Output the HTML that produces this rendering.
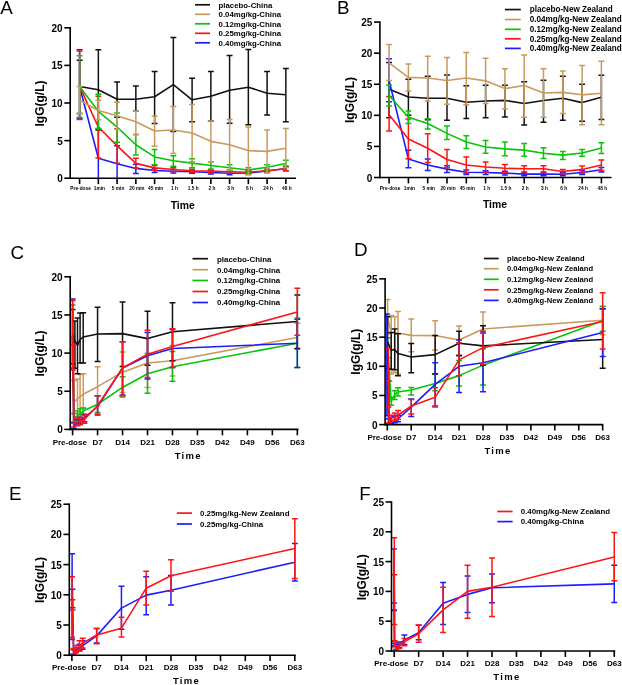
<!DOCTYPE html>
<html><head><meta charset="utf-8"><style>
html,body{margin:0;padding:0;background:#fff;}
svg{display:block;will-change:transform;}
</style></head><body>
<svg width="622" height="685" viewBox="0 0 622 685" font-family='"Liberation Sans", sans-serif' fill="#000">
<rect width="622" height="685" fill="#fff"/>
<clipPath id="cA"><rect x="70.2" y="0" width="228.8" height="178.2"/></clipPath>
<g clip-path="url(#cA)">
<path d="M79.6 86.46V60.14M76.65 60.14H82.55M79.6 86.46V113.53M76.65 113.53H82.55" stroke="#111111" stroke-width="1.5" fill="none"/>
<path d="M98.35 89.69V49.76M95.4 49.76H101.3M98.35 89.69V130.07M95.4 130.07H101.3" stroke="#111111" stroke-width="1.5" fill="none"/>
<path d="M117.1 99.24V81.94M114.15 81.94H120.05M117.1 99.24V117.29M114.15 117.29H120.05" stroke="#111111" stroke-width="1.5" fill="none"/>
<path d="M135.85 99.24V85.93M132.9 85.93H138.8M135.85 99.24V111.27M132.9 111.27H138.8" stroke="#111111" stroke-width="1.5" fill="none"/>
<path d="M154.6 96.76V71.42M151.65 71.42H157.55M154.6 96.76V123.45M151.65 123.45H157.55" stroke="#111111" stroke-width="1.5" fill="none"/>
<path d="M173.35 84.58V37.58M170.4 37.58H176.3M173.35 84.58V131.58M170.4 131.58H176.3" stroke="#111111" stroke-width="1.5" fill="none"/>
<path d="M192.1 99.77V78.18M189.15 78.18H195.05M192.1 99.77V121.8M189.15 121.8H195.05" stroke="#111111" stroke-width="1.5" fill="none"/>
<path d="M210.85 96.23V71.42M207.9 71.42H213.8M210.85 96.23V121.05M207.9 121.05H213.8" stroke="#111111" stroke-width="1.5" fill="none"/>
<path d="M229.6 90.22V55.62M226.65 55.62H232.55M229.6 90.22V123.3M226.65 123.3H232.55" stroke="#111111" stroke-width="1.5" fill="none"/>
<path d="M248.35 87.21V49.61M245.4 49.61H251.3M248.35 87.21V124.81M245.4 124.81H251.3" stroke="#111111" stroke-width="1.5" fill="none"/>
<path d="M267.1 93.22V71.42M264.15 71.42H270.05M267.1 93.22V115.03M264.15 115.03H270.05" stroke="#111111" stroke-width="1.5" fill="none"/>
<path d="M285.85 94.73V68.41M282.9 68.41H288.8M285.85 94.73V121.8M282.9 121.8H288.8" stroke="#111111" stroke-width="1.5" fill="none"/>
<path d="M79.6 86.46 L98.35 89.69 L117.1 99.24 L135.85 99.24 L154.6 96.76 L173.35 84.58 L192.1 99.77 L210.85 96.23 L229.6 90.22 L248.35 87.21 L267.1 93.22 L285.85 94.73" stroke="#111111" stroke-width="1.6" fill="none" stroke-linejoin="round"/>
<path d="M79.6 86.46V49.76M76.65 49.76H82.55M79.6 86.46V118.79M76.65 118.79H82.55" stroke="#1c1cff" stroke-width="1.5" fill="none"/>
<path d="M98.35 158.27V128.57M95.4 128.57H101.3M98.35 158.27V193.24" stroke="#1c1cff" stroke-width="1.5" fill="none"/>
<path d="M117.1 163.76V145.86M114.15 145.86H120.05M117.1 163.76V185.72" stroke="#1c1cff" stroke-width="1.5" fill="none"/>
<path d="M135.85 168.42V164.36M132.9 164.36H138.8M135.85 168.42V173.39M132.9 173.39H138.8" stroke="#1c1cff" stroke-width="1.5" fill="none"/>
<path d="M154.6 170.45V168.42M151.65 168.42H157.55M154.6 170.45V172.56M151.65 172.56H157.55" stroke="#1c1cff" stroke-width="1.5" fill="none"/>
<path d="M173.35 171.28V169.55M170.4 169.55H176.3M173.35 171.28V172.94M170.4 172.94H176.3" stroke="#1c1cff" stroke-width="1.5" fill="none"/>
<path d="M192.1 171.81V170.3M189.15 170.3H195.05M192.1 171.81V173.31M189.15 173.31H195.05" stroke="#1c1cff" stroke-width="1.5" fill="none"/>
<path d="M210.85 172.56V171.06M207.9 171.06H213.8M210.85 172.56V174.06M207.9 174.06H213.8" stroke="#1c1cff" stroke-width="1.5" fill="none"/>
<path d="M229.6 173.31V171.81M226.65 171.81H232.55M229.6 173.31V174.82M226.65 174.82H232.55" stroke="#1c1cff" stroke-width="1.5" fill="none"/>
<path d="M248.35 172.94V171.43M245.4 171.43H251.3M248.35 172.94V174.44M245.4 174.44H251.3" stroke="#1c1cff" stroke-width="1.5" fill="none"/>
<path d="M267.1 171.06V169.55M264.15 169.55H270.05M267.1 171.06V172.56M264.15 172.56H270.05" stroke="#1c1cff" stroke-width="1.5" fill="none"/>
<path d="M285.85 168.42V166.17M282.9 166.17H288.8M285.85 168.42V170.68M282.9 170.68H288.8" stroke="#1c1cff" stroke-width="1.5" fill="none"/>
<path d="M79.6 86.46 L98.35 158.27 L117.1 163.76 L135.85 168.42 L154.6 170.45 L173.35 171.28 L192.1 171.81 L210.85 172.56 L229.6 173.31 L248.35 172.94 L267.1 171.06 L285.85 168.42" stroke="#1c1cff" stroke-width="1.6" fill="none" stroke-linejoin="round"/>
<path d="M79.6 86.46V51.11M76.65 51.11H82.55M79.6 86.46V119.54M76.65 119.54H82.55" stroke="#ff1414" stroke-width="1.5" fill="none"/>
<path d="M98.35 127.06V96.23M95.4 96.23H101.3M98.35 127.06V157.9M95.4 157.9H101.3" stroke="#ff1414" stroke-width="1.5" fill="none"/>
<path d="M117.1 145.86V128.79M114.15 128.79H120.05M117.1 145.86V163.16M114.15 163.16H120.05" stroke="#ff1414" stroke-width="1.5" fill="none"/>
<path d="M135.85 163.39V158.27M132.9 158.27H138.8M135.85 163.39V167.9M132.9 167.9H138.8" stroke="#ff1414" stroke-width="1.5" fill="none"/>
<path d="M154.6 167.9V165.42M151.65 165.42H157.55M154.6 167.9V170.3M151.65 170.3H157.55" stroke="#ff1414" stroke-width="1.5" fill="none"/>
<path d="M173.35 169.48V167.67M170.4 167.67H176.3M173.35 169.48V171.43M170.4 171.43H176.3" stroke="#ff1414" stroke-width="1.5" fill="none"/>
<path d="M192.1 170.68V169.18M189.15 169.18H195.05M192.1 170.68V172.18M189.15 172.18H195.05" stroke="#ff1414" stroke-width="1.5" fill="none"/>
<path d="M210.85 171.06V169.55M207.9 169.55H213.8M210.85 171.06V172.56M207.9 172.56H213.8" stroke="#ff1414" stroke-width="1.5" fill="none"/>
<path d="M229.6 171.81V170.3M226.65 170.3H232.55M229.6 171.81V173.31M226.65 173.31H232.55" stroke="#ff1414" stroke-width="1.5" fill="none"/>
<path d="M248.35 172.18V170.68M245.4 170.68H251.3M248.35 172.18V173.69M245.4 173.69H251.3" stroke="#ff1414" stroke-width="1.5" fill="none"/>
<path d="M267.1 170.68V169.18M264.15 169.18H270.05M267.1 170.68V172.18M264.15 172.18H270.05" stroke="#ff1414" stroke-width="1.5" fill="none"/>
<path d="M285.85 168.8V166.92M282.9 166.92H288.8M285.85 168.8V170.68M282.9 170.68H288.8" stroke="#ff1414" stroke-width="1.5" fill="none"/>
<path d="M79.6 86.46 L98.35 127.06 L117.1 145.86 L135.85 163.39 L154.6 167.9 L173.35 169.48 L192.1 170.68 L210.85 171.06 L229.6 171.81 L248.35 172.18 L267.1 170.68 L285.85 168.8" stroke="#ff1414" stroke-width="1.6" fill="none" stroke-linejoin="round"/>
<path d="M79.6 86.46V55.85M76.65 55.85H82.55M79.6 86.46V117.29M76.65 117.29H82.55" stroke="#08c408" stroke-width="1.5" fill="none"/>
<path d="M98.35 111.27V94.35M95.4 94.35H101.3M98.35 111.27V128.79M95.4 128.79H101.3" stroke="#08c408" stroke-width="1.5" fill="none"/>
<path d="M117.1 127.06V113M114.15 113H120.05M117.1 127.06V142.18M114.15 142.18H120.05" stroke="#08c408" stroke-width="1.5" fill="none"/>
<path d="M135.85 144.74V134.58M132.9 134.58H138.8M135.85 144.74V154.89M132.9 154.89H138.8" stroke="#08c408" stroke-width="1.5" fill="none"/>
<path d="M154.6 156.92V149.4M151.65 149.4H157.55M154.6 156.92V164.74M151.65 164.74H157.55" stroke="#08c408" stroke-width="1.5" fill="none"/>
<path d="M173.35 160.68V155.64M170.4 155.64H176.3M173.35 160.68V166.17M170.4 166.17H176.3" stroke="#08c408" stroke-width="1.5" fill="none"/>
<path d="M192.1 163.16V158.65M189.15 158.65H195.05M192.1 163.16V167.67M189.15 167.67H195.05" stroke="#08c408" stroke-width="1.5" fill="none"/>
<path d="M210.85 165.42V161.66M207.9 161.66H213.8M210.85 165.42V169.18M207.9 169.18H213.8" stroke="#08c408" stroke-width="1.5" fill="none"/>
<path d="M229.6 167.67V164.66M226.65 164.66H232.55M229.6 167.67V170.68M226.65 170.68H232.55" stroke="#08c408" stroke-width="1.5" fill="none"/>
<path d="M248.35 169.93V167.67M245.4 167.67H251.3M248.35 169.93V172.18M245.4 172.18H251.3" stroke="#08c408" stroke-width="1.5" fill="none"/>
<path d="M267.1 167.3V164.66M264.15 164.66H270.05M267.1 167.3V169.93M264.15 169.93H270.05" stroke="#08c408" stroke-width="1.5" fill="none"/>
<path d="M285.85 163.46V160.15M282.9 160.15H288.8M285.85 163.46V166.92M282.9 166.92H288.8" stroke="#08c408" stroke-width="1.5" fill="none"/>
<path d="M79.6 86.46 L98.35 111.27 L117.1 127.06 L135.85 144.74 L154.6 156.92 L173.35 160.68 L192.1 163.16 L210.85 165.42 L229.6 167.67 L248.35 169.93 L267.1 167.3 L285.85 163.46" stroke="#08c408" stroke-width="1.6" fill="none" stroke-linejoin="round"/>
<path d="M79.6 100.29V86.46M76.65 86.46H82.55M79.6 100.29V113.53M76.65 113.53H82.55" stroke="#c99a5e" stroke-width="1.5" fill="none"/>
<path d="M98.35 110.52V100.29M95.4 100.29H101.3M98.35 110.52V119.77M95.4 119.77H101.3" stroke="#c99a5e" stroke-width="1.5" fill="none"/>
<path d="M117.1 115.78V102.25M114.15 102.25H120.05M117.1 115.78V129.32M114.15 129.32H120.05" stroke="#c99a5e" stroke-width="1.5" fill="none"/>
<path d="M135.85 121.8V111.27M132.9 111.27H138.8M135.85 121.8V134.58M132.9 134.58H138.8" stroke="#c99a5e" stroke-width="1.5" fill="none"/>
<path d="M154.6 130.97V116.24M151.65 116.24H157.55M154.6 130.97V146.32M151.65 146.32H157.55" stroke="#c99a5e" stroke-width="1.5" fill="none"/>
<path d="M173.35 130.07V106.38M170.4 106.38H176.3M173.35 130.07V153.53M170.4 153.53H176.3" stroke="#c99a5e" stroke-width="1.5" fill="none"/>
<path d="M192.1 133.08V104.5M189.15 104.5H195.05M192.1 133.08V161.66M189.15 161.66H195.05" stroke="#c99a5e" stroke-width="1.5" fill="none"/>
<path d="M210.85 141.35V121.05M207.9 121.05H213.8M210.85 141.35V161.66M207.9 161.66H213.8" stroke="#c99a5e" stroke-width="1.5" fill="none"/>
<path d="M229.6 144.74V119.54M226.65 119.54H232.55M229.6 144.74V169.93M226.65 169.93H232.55" stroke="#c99a5e" stroke-width="1.5" fill="none"/>
<path d="M248.35 150.6V127.06M245.4 127.06H251.3M248.35 150.6V174.44M245.4 174.44H251.3" stroke="#c99a5e" stroke-width="1.5" fill="none"/>
<path d="M267.1 151.35V130.07M264.15 130.07H270.05M267.1 151.35V172.94M264.15 172.94H270.05" stroke="#c99a5e" stroke-width="1.5" fill="none"/>
<path d="M285.85 148.27V128.57M282.9 128.57H288.8M285.85 148.27V167.67M282.9 167.67H288.8" stroke="#c99a5e" stroke-width="1.5" fill="none"/>
<path d="M79.6 100.29 L98.35 110.52 L117.1 115.78 L135.85 121.8 L154.6 130.97 L173.35 130.07 L192.1 133.08 L210.85 141.35 L229.6 144.74 L248.35 150.6 L267.1 151.35 L285.85 148.27" stroke="#c99a5e" stroke-width="1.6" fill="none" stroke-linejoin="round"/>
</g>
<path d="M70.2 27V179" stroke="#000" stroke-width="1.6"/>
<path d="M69.4 178.2H296" stroke="#000" stroke-width="1.6"/>
<path d="M64.3 178.2H70.2" stroke="#000" stroke-width="1.6"/>
<text x="62.7" y="182.2" font-size="10" font-weight="bold" text-anchor="end">0</text>
<path d="M64.3 140.6H70.2" stroke="#000" stroke-width="1.6"/>
<text x="62.7" y="144.6" font-size="10" font-weight="bold" text-anchor="end">5</text>
<path d="M64.3 103H70.2" stroke="#000" stroke-width="1.6"/>
<text x="62.7" y="107" font-size="10" font-weight="bold" text-anchor="end">10</text>
<path d="M64.3 65.4H70.2" stroke="#000" stroke-width="1.6"/>
<text x="62.7" y="69.4" font-size="10" font-weight="bold" text-anchor="end">15</text>
<path d="M64.3 27.8H70.2" stroke="#000" stroke-width="1.6"/>
<text x="62.7" y="31.8" font-size="10" font-weight="bold" text-anchor="end">20</text>
<path d="M79.6 178.2V184.1" stroke="#000" stroke-width="1.6"/>
<text x="80.6" y="190.03" font-size="4.8" font-weight="bold" text-anchor="middle">Pre-dose</text>
<path d="M98.35 178.2V184.1" stroke="#000" stroke-width="1.6"/>
<text x="99.35" y="190.03" font-size="4.8" font-weight="bold" text-anchor="middle">1min</text>
<path d="M117.1 178.2V184.1" stroke="#000" stroke-width="1.6"/>
<text x="118.1" y="190.03" font-size="4.8" font-weight="bold" text-anchor="middle">5 min</text>
<path d="M135.85 178.2V184.1" stroke="#000" stroke-width="1.6"/>
<text x="136.85" y="190.03" font-size="4.8" font-weight="bold" text-anchor="middle">20 min</text>
<path d="M154.6 178.2V184.1" stroke="#000" stroke-width="1.6"/>
<text x="155.6" y="190.03" font-size="4.8" font-weight="bold" text-anchor="middle">45 min</text>
<path d="M173.35 178.2V184.1" stroke="#000" stroke-width="1.6"/>
<text x="174.35" y="190.03" font-size="4.8" font-weight="bold" text-anchor="middle">1 h</text>
<path d="M192.1 178.2V184.1" stroke="#000" stroke-width="1.6"/>
<text x="193.1" y="190.03" font-size="4.8" font-weight="bold" text-anchor="middle">1.5 h</text>
<path d="M210.85 178.2V184.1" stroke="#000" stroke-width="1.6"/>
<text x="211.85" y="190.03" font-size="4.8" font-weight="bold" text-anchor="middle">2 h</text>
<path d="M229.6 178.2V184.1" stroke="#000" stroke-width="1.6"/>
<text x="230.6" y="190.03" font-size="4.8" font-weight="bold" text-anchor="middle">3 h</text>
<path d="M248.35 178.2V184.1" stroke="#000" stroke-width="1.6"/>
<text x="249.35" y="190.03" font-size="4.8" font-weight="bold" text-anchor="middle">6 h</text>
<path d="M267.1 178.2V184.1" stroke="#000" stroke-width="1.6"/>
<text x="268.1" y="190.03" font-size="4.8" font-weight="bold" text-anchor="middle">24 h</text>
<path d="M285.85 178.2V184.1" stroke="#000" stroke-width="1.6"/>
<text x="286.85" y="190.03" font-size="4.8" font-weight="bold" text-anchor="middle">48 h</text>
<text transform="translate(44.47 103.5) rotate(-90)" font-size="12" font-weight="bold" text-anchor="middle">IgG(g/L)</text>
<text x="182.7" y="208.74" font-size="10.4" font-weight="bold" text-anchor="middle" letter-spacing="0">Time</text>
<text x="0.2" y="13.9" font-size="18.8">A</text>
<path d="M195 4.8H210" stroke="#111111" stroke-width="1.7"/>
<text x="218.6" y="7.61" font-size="7.8" font-weight="bold">placebo-China</text>
<path d="M195 14.3H210" stroke="#c99a5e" stroke-width="1.7"/>
<text x="218.6" y="17.11" font-size="7.8" font-weight="bold">0.04mg/kg-China</text>
<path d="M195 23.8H210" stroke="#08c408" stroke-width="1.7"/>
<text x="218.6" y="26.61" font-size="7.8" font-weight="bold">0.12mg/kg-China</text>
<path d="M195 33.3H210" stroke="#ff1414" stroke-width="1.7"/>
<text x="218.6" y="36.11" font-size="7.8" font-weight="bold">0.25mg/kg-China</text>
<path d="M195 42.8H210" stroke="#1c1cff" stroke-width="1.7"/>
<text x="218.6" y="45.61" font-size="7.8" font-weight="bold">0.40mg/kg-China</text>
<clipPath id="cB"><rect x="379.9" y="0" width="234.6" height="177.5"/></clipPath>
<g clip-path="url(#cB)">
<path d="M389.1 89.23V62.5M386.15 62.5H392.05M389.1 89.23V117.83M386.15 117.83H392.05" stroke="#111111" stroke-width="1.5" fill="none"/>
<path d="M408.4 96.94V79.29M405.45 79.29H411.35M408.4 96.94V115.34M405.45 115.34H411.35" stroke="#111111" stroke-width="1.5" fill="none"/>
<path d="M427.7 98.25V76.18M424.75 76.18H430.65M427.7 98.25V119.69M424.75 119.69H430.65" stroke="#111111" stroke-width="1.5" fill="none"/>
<path d="M447 98.25V74.94M444.05 74.94H449.95M447 98.25V120.31M444.05 120.31H449.95" stroke="#111111" stroke-width="1.5" fill="none"/>
<path d="M466.3 102.29V85.81M463.35 85.81H469.25M466.3 102.29V118.45M463.35 118.45H469.25" stroke="#111111" stroke-width="1.5" fill="none"/>
<path d="M485.6 101.04V85.19M482.65 85.19H488.55M485.6 101.04V117.83M482.65 117.83H488.55" stroke="#111111" stroke-width="1.5" fill="none"/>
<path d="M504.9 100.42V85.19M501.95 85.19H507.85M504.9 100.42V116.89M501.95 116.89H507.85" stroke="#111111" stroke-width="1.5" fill="none"/>
<path d="M524.2 103.53V81.77M521.25 81.77H527.15M524.2 103.53V124.97M521.25 124.97H527.15" stroke="#111111" stroke-width="1.5" fill="none"/>
<path d="M543.5 100.42V80.22M540.55 80.22H546.45M543.5 100.42V122.18M540.55 122.18H546.45" stroke="#111111" stroke-width="1.5" fill="none"/>
<path d="M562.8 98.25V76.18M559.85 76.18H565.75M562.8 98.25V120.31M559.85 120.31H565.75" stroke="#111111" stroke-width="1.5" fill="none"/>
<path d="M582.1 102.6V84.26M579.15 84.26H585.05M582.1 102.6V121.25M579.15 121.25H585.05" stroke="#111111" stroke-width="1.5" fill="none"/>
<path d="M601.4 97.31V75.25M598.45 75.25H604.35M601.4 97.31V119.38M598.45 119.38H604.35" stroke="#111111" stroke-width="1.5" fill="none"/>
<path d="M389.1 89.23 L408.4 96.94 L427.7 98.25 L447 98.25 L466.3 102.29 L485.6 101.04 L504.9 100.42 L524.2 103.53 L543.5 100.42 L562.8 98.25 L582.1 102.6 L601.4 97.31" stroke="#111111" stroke-width="1.6" fill="none" stroke-linejoin="round"/>
<path d="M389.1 80.53V58.77M386.15 58.77H392.05M389.1 80.53V101.66M386.15 101.66H392.05" stroke="#1c1cff" stroke-width="1.5" fill="none"/>
<path d="M408.4 159.1V150.15M405.45 150.15H411.35M408.4 159.1V167.87M405.45 167.87H411.35" stroke="#1c1cff" stroke-width="1.5" fill="none"/>
<path d="M427.7 165.07V159.1M424.75 159.1H430.65M427.7 165.07V170.41M424.75 170.41H430.65" stroke="#1c1cff" stroke-width="1.5" fill="none"/>
<path d="M447 169.11V165.69M444.05 165.69H449.95M447 169.11V172.53M444.05 172.53H449.95" stroke="#1c1cff" stroke-width="1.5" fill="none"/>
<path d="M466.3 172.22V170.04M463.35 170.04H469.25M466.3 172.22V174.39M463.35 174.39H469.25" stroke="#1c1cff" stroke-width="1.5" fill="none"/>
<path d="M485.6 172.53V170.66M482.65 170.66H488.55M485.6 172.53V174.39M482.65 174.39H488.55" stroke="#1c1cff" stroke-width="1.5" fill="none"/>
<path d="M504.9 173.15V171.28M501.95 171.28H507.85M504.9 173.15V175.01M501.95 175.01H507.85" stroke="#1c1cff" stroke-width="1.5" fill="none"/>
<path d="M524.2 174.08V172.53M521.25 172.53H527.15M524.2 174.08V175.64M521.25 175.64H527.15" stroke="#1c1cff" stroke-width="1.5" fill="none"/>
<path d="M543.5 174.08V172.53M540.55 172.53H546.45M543.5 174.08V175.64M540.55 175.64H546.45" stroke="#1c1cff" stroke-width="1.5" fill="none"/>
<path d="M562.8 174.21V172.53M559.85 172.53H565.75M562.8 174.21V175.64M559.85 175.64H565.75" stroke="#1c1cff" stroke-width="1.5" fill="none"/>
<path d="M582.1 172.53V170.66M579.15 170.66H585.05M582.1 172.53V174.39M579.15 174.39H585.05" stroke="#1c1cff" stroke-width="1.5" fill="none"/>
<path d="M601.4 169.79V167.55M598.45 167.55H604.35M601.4 169.79V171.91M598.45 171.91H604.35" stroke="#1c1cff" stroke-width="1.5" fill="none"/>
<path d="M389.1 80.53 L408.4 159.1 L427.7 165.07 L447 169.11 L466.3 172.22 L485.6 172.53 L504.9 173.15 L524.2 174.08 L543.5 174.08 L562.8 174.21 L582.1 172.53 L601.4 169.79" stroke="#1c1cff" stroke-width="1.6" fill="none" stroke-linejoin="round"/>
<path d="M389.1 114.72V96.38M386.15 96.38H392.05M389.1 114.72V130.88M386.15 130.88H392.05" stroke="#ff1414" stroke-width="1.5" fill="none"/>
<path d="M408.4 138.96V119.07M405.45 119.07H411.35M408.4 138.96V158.85M405.45 158.85H411.35" stroke="#ff1414" stroke-width="1.5" fill="none"/>
<path d="M427.7 148.28V133.68M424.75 133.68H430.65M427.7 148.28V162.58M424.75 162.58H430.65" stroke="#ff1414" stroke-width="1.5" fill="none"/>
<path d="M447 159.47V149.53M444.05 149.53H449.95M447 159.47V167.87M444.05 167.87H449.95" stroke="#ff1414" stroke-width="1.5" fill="none"/>
<path d="M466.3 165.07V156.99M463.35 156.99H469.25M466.3 165.07V173.15M463.35 173.15H469.25" stroke="#ff1414" stroke-width="1.5" fill="none"/>
<path d="M485.6 166.93V161.96M482.65 161.96H488.55M485.6 166.93V171.91M482.65 171.91H488.55" stroke="#ff1414" stroke-width="1.5" fill="none"/>
<path d="M504.9 168.3V164.45M501.95 164.45H507.85M504.9 168.3V172.71M501.95 172.71H507.85" stroke="#ff1414" stroke-width="1.5" fill="none"/>
<path d="M524.2 168.8V165.69M521.25 165.69H527.15M524.2 168.8V171.91M521.25 171.91H527.15" stroke="#ff1414" stroke-width="1.5" fill="none"/>
<path d="M543.5 168.8V165.69M540.55 165.69H546.45M543.5 168.8V171.91M540.55 171.91H546.45" stroke="#ff1414" stroke-width="1.5" fill="none"/>
<path d="M562.8 171.53V169.42M559.85 169.42H565.75M562.8 171.53V173.77M559.85 173.77H565.75" stroke="#ff1414" stroke-width="1.5" fill="none"/>
<path d="M582.1 169.42V166M579.15 166H585.05M582.1 169.42V173.15M579.15 173.15H585.05" stroke="#ff1414" stroke-width="1.5" fill="none"/>
<path d="M601.4 165.07V160.1M598.45 160.1H604.35M601.4 165.07V170.41M598.45 170.41H604.35" stroke="#ff1414" stroke-width="1.5" fill="none"/>
<path d="M389.1 114.72 L408.4 138.96 L427.7 148.28 L447 159.47 L466.3 165.07 L485.6 166.93 L504.9 168.3 L524.2 168.8 L543.5 168.8 L562.8 171.53 L582.1 169.42 L601.4 165.07" stroke="#ff1414" stroke-width="1.6" fill="none" stroke-linejoin="round"/>
<path d="M389.1 95.45V84.88M386.15 84.88H392.05M389.1 95.45V106.02M386.15 106.02H392.05" stroke="#08c408" stroke-width="1.5" fill="none"/>
<path d="M408.4 117.2V110.99M405.45 110.99H411.35M408.4 117.2V123.42M405.45 123.42H411.35" stroke="#08c408" stroke-width="1.5" fill="none"/>
<path d="M427.7 123.42V118.76M424.75 118.76H430.65M427.7 123.42V129.02M424.75 129.02H430.65" stroke="#08c408" stroke-width="1.5" fill="none"/>
<path d="M447 133.37V125.91M444.05 125.91H449.95M447 133.37V139.58M444.05 139.58H449.95" stroke="#08c408" stroke-width="1.5" fill="none"/>
<path d="M466.3 142.07V135.85M463.35 135.85H469.25M466.3 142.07V148.6M463.35 148.6H469.25" stroke="#08c408" stroke-width="1.5" fill="none"/>
<path d="M485.6 147.04V140.51M482.65 140.51H488.55M485.6 147.04V153.26M482.65 153.26H488.55" stroke="#08c408" stroke-width="1.5" fill="none"/>
<path d="M504.9 148.91V142.07M501.95 142.07H507.85M504.9 148.91V155.74M501.95 155.74H507.85" stroke="#08c408" stroke-width="1.5" fill="none"/>
<path d="M524.2 150.15V143.62M521.25 143.62H527.15M524.2 150.15V156.37M521.25 156.37H527.15" stroke="#08c408" stroke-width="1.5" fill="none"/>
<path d="M543.5 153.26V147.66M540.55 147.66H546.45M543.5 153.26V158.54M540.55 158.54H546.45" stroke="#08c408" stroke-width="1.5" fill="none"/>
<path d="M562.8 155.12V151.39M559.85 151.39H565.75M562.8 155.12V159.47M559.85 159.47H565.75" stroke="#08c408" stroke-width="1.5" fill="none"/>
<path d="M582.1 152.95V149.53M579.15 149.53H585.05M582.1 152.95V156.37M579.15 156.37H585.05" stroke="#08c408" stroke-width="1.5" fill="none"/>
<path d="M601.4 147.97V142.69M598.45 142.69H604.35M601.4 147.97V153.57M598.45 153.57H604.35" stroke="#08c408" stroke-width="1.5" fill="none"/>
<path d="M389.1 95.45 L408.4 117.2 L427.7 123.42 L447 133.37 L466.3 142.07 L485.6 147.04 L504.9 148.91 L524.2 150.15 L543.5 153.26 L562.8 155.12 L582.1 152.95 L601.4 147.97" stroke="#08c408" stroke-width="1.6" fill="none" stroke-linejoin="round"/>
<path d="M389.1 62.81V44.48M386.15 44.48H392.05M389.1 62.81V80.53M386.15 80.53H392.05" stroke="#c99a5e" stroke-width="1.5" fill="none"/>
<path d="M408.4 77.42V64.06M405.45 64.06H411.35M408.4 77.42V91.1M405.45 91.1H411.35" stroke="#c99a5e" stroke-width="1.5" fill="none"/>
<path d="M427.7 78.04V56.29M424.75 56.29H430.65M427.7 78.04V101.04M424.75 101.04H430.65" stroke="#c99a5e" stroke-width="1.5" fill="none"/>
<path d="M447 80.53V57.53M444.05 57.53H449.95M447 80.53V104.15M444.05 104.15H449.95" stroke="#c99a5e" stroke-width="1.5" fill="none"/>
<path d="M466.3 78.04V52.56M463.35 52.56H469.25M466.3 78.04V104.77M463.35 104.77H469.25" stroke="#c99a5e" stroke-width="1.5" fill="none"/>
<path d="M485.6 80.84V58.15M482.65 58.15H488.55M485.6 80.84V103.53M482.65 103.53H488.55" stroke="#c99a5e" stroke-width="1.5" fill="none"/>
<path d="M504.9 88.61V68.72M501.95 68.72H507.85M504.9 88.61V109.12M501.95 109.12H507.85" stroke="#c99a5e" stroke-width="1.5" fill="none"/>
<path d="M524.2 85.5V55.04M521.25 55.04H527.15M524.2 85.5V117.2M521.25 117.2H527.15" stroke="#c99a5e" stroke-width="1.5" fill="none"/>
<path d="M543.5 92.96V68.72M540.55 68.72H546.45M543.5 92.96V117.2M540.55 117.2H546.45" stroke="#c99a5e" stroke-width="1.5" fill="none"/>
<path d="M562.8 92.34V70.9M559.85 70.9H565.75M562.8 92.34V113.48M559.85 113.48H565.75" stroke="#c99a5e" stroke-width="1.5" fill="none"/>
<path d="M582.1 94.83V65.61M579.15 65.61H585.05M582.1 94.83V124.66M579.15 124.66H585.05" stroke="#c99a5e" stroke-width="1.5" fill="none"/>
<path d="M601.4 93.27V61.26M598.45 61.26H604.35M601.4 93.27V124.66M598.45 124.66H604.35" stroke="#c99a5e" stroke-width="1.5" fill="none"/>
<path d="M389.1 62.81 L408.4 77.42 L427.7 78.04 L447 80.53 L466.3 78.04 L485.6 80.84 L504.9 88.61 L524.2 85.5 L543.5 92.96 L562.8 92.34 L582.1 94.83 L601.4 93.27" stroke="#c99a5e" stroke-width="1.6" fill="none" stroke-linejoin="round"/>
</g>
<path d="M379.9 21.3V178.3" stroke="#000" stroke-width="1.6"/>
<path d="M379.1 177.5H611.5" stroke="#000" stroke-width="1.6"/>
<path d="M374 177.5H379.9" stroke="#000" stroke-width="1.6"/>
<text x="372.4" y="181.5" font-size="10" font-weight="bold" text-anchor="end">0</text>
<path d="M374 146.42H379.9" stroke="#000" stroke-width="1.6"/>
<text x="372.4" y="150.42" font-size="10" font-weight="bold" text-anchor="end">5</text>
<path d="M374 115.34H379.9" stroke="#000" stroke-width="1.6"/>
<text x="372.4" y="119.34" font-size="10" font-weight="bold" text-anchor="end">10</text>
<path d="M374 84.26H379.9" stroke="#000" stroke-width="1.6"/>
<text x="372.4" y="88.26" font-size="10" font-weight="bold" text-anchor="end">15</text>
<path d="M374 53.18H379.9" stroke="#000" stroke-width="1.6"/>
<text x="372.4" y="57.18" font-size="10" font-weight="bold" text-anchor="end">20</text>
<path d="M374 22.1H379.9" stroke="#000" stroke-width="1.6"/>
<text x="372.4" y="26.1" font-size="10" font-weight="bold" text-anchor="end">25</text>
<path d="M389.1 177.5V183.4" stroke="#000" stroke-width="1.6"/>
<text x="390.1" y="189.73" font-size="4.8" font-weight="bold" text-anchor="middle">Pre-dose</text>
<path d="M408.4 177.5V183.4" stroke="#000" stroke-width="1.6"/>
<text x="409.4" y="189.73" font-size="4.8" font-weight="bold" text-anchor="middle">1min</text>
<path d="M427.7 177.5V183.4" stroke="#000" stroke-width="1.6"/>
<text x="428.7" y="189.73" font-size="4.8" font-weight="bold" text-anchor="middle">5 min</text>
<path d="M447 177.5V183.4" stroke="#000" stroke-width="1.6"/>
<text x="448" y="189.73" font-size="4.8" font-weight="bold" text-anchor="middle">20 min</text>
<path d="M466.3 177.5V183.4" stroke="#000" stroke-width="1.6"/>
<text x="467.3" y="189.73" font-size="4.8" font-weight="bold" text-anchor="middle">45 min</text>
<path d="M485.6 177.5V183.4" stroke="#000" stroke-width="1.6"/>
<text x="486.6" y="189.73" font-size="4.8" font-weight="bold" text-anchor="middle">1 h</text>
<path d="M504.9 177.5V183.4" stroke="#000" stroke-width="1.6"/>
<text x="505.9" y="189.73" font-size="4.8" font-weight="bold" text-anchor="middle">1.5 h</text>
<path d="M524.2 177.5V183.4" stroke="#000" stroke-width="1.6"/>
<text x="525.2" y="189.73" font-size="4.8" font-weight="bold" text-anchor="middle">2 h</text>
<path d="M543.5 177.5V183.4" stroke="#000" stroke-width="1.6"/>
<text x="544.5" y="189.73" font-size="4.8" font-weight="bold" text-anchor="middle">3 h</text>
<path d="M562.8 177.5V183.4" stroke="#000" stroke-width="1.6"/>
<text x="563.8" y="189.73" font-size="4.8" font-weight="bold" text-anchor="middle">6 h</text>
<path d="M582.1 177.5V183.4" stroke="#000" stroke-width="1.6"/>
<text x="583.1" y="189.73" font-size="4.8" font-weight="bold" text-anchor="middle">24 h</text>
<path d="M601.4 177.5V183.4" stroke="#000" stroke-width="1.6"/>
<text x="602.4" y="189.73" font-size="4.8" font-weight="bold" text-anchor="middle">48 h</text>
<text transform="translate(353.67 100) rotate(-90)" font-size="12" font-weight="bold" text-anchor="middle">IgG(g/L)</text>
<text x="495" y="208.24" font-size="10.4" font-weight="bold" text-anchor="middle" letter-spacing="0">Time</text>
<text x="337.1" y="13.5" font-size="18.8">B</text>
<path d="M504.9 9.55H520.8" stroke="#111111" stroke-width="1.7"/>
<text x="529.7" y="12.48" font-size="8.15" font-weight="bold">placebo-New Zealand</text>
<path d="M504.9 19.5H520.8" stroke="#c99a5e" stroke-width="1.7"/>
<text x="529.7" y="22.43" font-size="8.15" font-weight="bold">0.04mg/kg-New Zealand</text>
<path d="M504.9 29.3H520.8" stroke="#08c408" stroke-width="1.7"/>
<text x="529.7" y="32.23" font-size="8.15" font-weight="bold">0.12mg/kg-New Zealand</text>
<path d="M504.9 38.8H520.8" stroke="#ff1414" stroke-width="1.7"/>
<text x="529.7" y="41.73" font-size="8.15" font-weight="bold">0.25mg/kg-New Zealand</text>
<path d="M504.9 48.4H520.8" stroke="#1c1cff" stroke-width="1.7"/>
<text x="529.7" y="51.33" font-size="8.15" font-weight="bold">0.40mg/kg-New Zealand</text>
<clipPath id="cC"><rect x="70.2" y="0" width="231.3" height="429.4"/></clipPath>
<g clip-path="url(#cC)">
<path d="M72.6 350.05V336.31M69.65 336.31H75.55M72.6 350.05V363.78M69.65 363.78H75.55" stroke="#c99a5e" stroke-width="1.5" fill="none"/>
<path d="M74 401.93V380.57M71.05 380.57H76.95M74 401.93V423.3M71.05 423.3H76.95" stroke="#c99a5e" stroke-width="1.5" fill="none"/>
<path d="M77.5 398.88V379.04M74.55 379.04H80.45M77.5 398.88V418.72M74.55 418.72H80.45" stroke="#c99a5e" stroke-width="1.5" fill="none"/>
<path d="M80.1 396.59V374.46M77.15 374.46H83.05M80.1 396.59V414.14M77.15 414.14H83.05" stroke="#c99a5e" stroke-width="1.5" fill="none"/>
<path d="M83.2 394.3V373.7M80.25 373.7H86.15M83.2 394.3V408.04M80.25 408.04H86.15" stroke="#c99a5e" stroke-width="1.5" fill="none"/>
<path d="M97.57 386.67V366.83M94.62 366.83H100.52M97.57 386.67V405.75M94.62 405.75H100.52" stroke="#c99a5e" stroke-width="1.5" fill="none"/>
<path d="M122.54 372.17V351.96M119.59 351.96H125.49M122.54 372.17V392.39M119.59 392.39H125.49" stroke="#c99a5e" stroke-width="1.5" fill="none"/>
<path d="M147.51 363.02V338.6M144.56 338.6H150.46M147.51 363.02V387.44M144.56 387.44H150.46" stroke="#c99a5e" stroke-width="1.5" fill="none"/>
<path d="M172.48 360.73V345.47M169.53 345.47H175.43M172.48 360.73V375.99M169.53 375.99H175.43" stroke="#c99a5e" stroke-width="1.5" fill="none"/>
<path d="M297.33 337.46V323.34M294.38 323.34H300.28M297.33 337.46V349.28M294.38 349.28H300.28" stroke="#c99a5e" stroke-width="1.5" fill="none"/>
<path d="M72.6 350.05 L74 401.93 L77.5 398.88 L80.1 396.59 L83.2 394.3 L97.57 386.67 L122.54 372.17 L147.51 363.02 L172.48 360.73 L297.33 337.46" stroke="#c99a5e" stroke-width="1.6" fill="none" stroke-linejoin="round"/>
<path d="M72.6 336.31V305.03M69.65 305.03H75.55M72.6 336.31V367.6M69.65 367.6H75.55" stroke="#08c408" stroke-width="1.5" fill="none"/>
<path d="M74 417.95V413.38M71.05 413.38H76.95M74 417.95V422.53M71.05 422.53H76.95" stroke="#08c408" stroke-width="1.5" fill="none"/>
<path d="M77.5 415.67V411.09M74.55 411.09H80.45M77.5 415.67V420.24M74.55 420.24H80.45" stroke="#08c408" stroke-width="1.5" fill="none"/>
<path d="M80.1 413.38V408.8M77.15 408.8H83.05M80.1 413.38V417.95M77.15 417.95H83.05" stroke="#08c408" stroke-width="1.5" fill="none"/>
<path d="M83.2 411.09V408.04M80.25 408.04H86.15M83.2 411.09V414.9M80.25 414.9H86.15" stroke="#08c408" stroke-width="1.5" fill="none"/>
<path d="M97.57 404.22V395.83M94.62 395.83H100.52M97.57 404.22V412.61M94.62 412.61H100.52" stroke="#08c408" stroke-width="1.5" fill="none"/>
<path d="M122.54 387.44V376.75M119.59 376.75H125.49M122.54 387.44V396.97M119.59 396.97H125.49" stroke="#08c408" stroke-width="1.5" fill="none"/>
<path d="M147.51 373.7V353.48M144.56 353.48H150.46M147.51 373.7V393.16M144.56 393.16H150.46" stroke="#08c408" stroke-width="1.5" fill="none"/>
<path d="M172.48 366.83V351.57M169.53 351.57H175.43M172.48 366.83V381.33M169.53 381.33H175.43" stroke="#08c408" stroke-width="1.5" fill="none"/>
<path d="M297.33 343.18V318M294.38 318H300.28M297.33 343.18V367.6M294.38 367.6H300.28" stroke="#08c408" stroke-width="1.5" fill="none"/>
<path d="M72.6 336.31 L74 417.95 L77.5 415.67 L80.1 413.38 L83.2 411.09 L97.57 404.22 L122.54 387.44 L147.51 373.7 L172.48 366.83 L297.33 343.18" stroke="#08c408" stroke-width="1.6" fill="none" stroke-linejoin="round"/>
<path d="M72.6 335.55V309.61M69.65 309.61H75.55M72.6 335.55V363.78M69.65 363.78H75.55" stroke="#111111" stroke-width="1.5" fill="none"/>
<path d="M74.9 340.89V321.05M71.95 321.05H77.85M74.9 340.89V368.36M71.95 368.36H77.85" stroke="#111111" stroke-width="1.5" fill="none"/>
<path d="M77.5 345.47V318M74.55 318H80.45M77.5 345.47V373.7M74.55 373.7H80.45" stroke="#111111" stroke-width="1.5" fill="none"/>
<path d="M80.1 339.37V312.89M77.15 312.89H83.05M80.1 339.37V363.02M77.15 363.02H83.05" stroke="#111111" stroke-width="1.5" fill="none"/>
<path d="M83.2 337.08V312.66M80.25 312.66H86.15M83.2 337.08V363.02M80.25 363.02H86.15" stroke="#111111" stroke-width="1.5" fill="none"/>
<path d="M97.57 334.02V307.32M94.62 307.32H100.52M97.57 334.02V361.49M94.62 361.49H100.52" stroke="#111111" stroke-width="1.5" fill="none"/>
<path d="M122.54 333.64V301.98M119.59 301.98H125.49M122.54 333.64V366.45M119.59 366.45H125.49" stroke="#111111" stroke-width="1.5" fill="none"/>
<path d="M147.51 338.6V311.13M144.56 311.13H150.46M147.51 338.6V365.31M144.56 365.31H150.46" stroke="#111111" stroke-width="1.5" fill="none"/>
<path d="M172.48 331.74V302.74M169.53 302.74H175.43M172.48 331.74V360.73M169.53 360.73H175.43" stroke="#111111" stroke-width="1.5" fill="none"/>
<path d="M297.33 321.44V295.11M294.38 295.11H300.28M297.33 321.44V348.52M294.38 348.52H300.28" stroke="#111111" stroke-width="1.5" fill="none"/>
<path d="M72.6 335.55 L74.9 340.89 L77.5 345.47 L80.1 339.37 L83.2 337.08 L97.57 334.02 L122.54 333.64 L147.51 338.6 L172.48 331.74 L297.33 321.44" stroke="#111111" stroke-width="1.6" fill="none" stroke-linejoin="round"/>
<path d="M72.6 336.31V298.93M69.65 298.93H75.55M72.6 336.31V369.12M69.65 369.12H75.55" stroke="#1c1cff" stroke-width="1.5" fill="none"/>
<path d="M73.7 426.35V422.53M70.75 422.53H76.65M73.7 426.35V428.64M70.75 428.64H76.65" stroke="#1c1cff" stroke-width="1.5" fill="none"/>
<path d="M77.5 422.53V419.48M74.55 419.48H80.45M77.5 422.53V425.58M74.55 425.58H80.45" stroke="#1c1cff" stroke-width="1.5" fill="none"/>
<path d="M80.1 420.24V417.19M77.15 417.19H83.05M80.1 420.24V423.3M77.15 423.3H83.05" stroke="#1c1cff" stroke-width="1.5" fill="none"/>
<path d="M84.4 417.95V414.14M81.45 414.14H87.35M84.4 417.95V421.77M81.45 421.77H87.35" stroke="#1c1cff" stroke-width="1.5" fill="none"/>
<path d="M97.57 406.51V395.83M94.62 395.83H100.52M97.57 406.51V414.9M94.62 414.9H100.52" stroke="#1c1cff" stroke-width="1.5" fill="none"/>
<path d="M122.54 367.98V341.65M119.59 341.65H125.49M122.54 367.98V395.06M119.59 395.06H125.49" stroke="#1c1cff" stroke-width="1.5" fill="none"/>
<path d="M147.51 355.77V332.5M144.56 332.5H150.46M147.51 355.77V379.04M144.56 379.04H150.46" stroke="#1c1cff" stroke-width="1.5" fill="none"/>
<path d="M172.48 348.52V329.45M169.53 329.45H175.43M172.48 348.52V367.6M169.53 367.6H175.43" stroke="#1c1cff" stroke-width="1.5" fill="none"/>
<path d="M297.33 343.18V319.15M294.38 319.15H300.28M297.33 343.18V367.6M294.38 367.6H300.28" stroke="#1c1cff" stroke-width="1.5" fill="none"/>
<path d="M72.6 336.31 L73.7 426.35 L77.5 422.53 L80.1 420.24 L84.4 417.95 L97.57 406.51 L122.54 367.98 L147.51 355.77 L172.48 348.52 L297.33 343.18" stroke="#1c1cff" stroke-width="1.6" fill="none" stroke-linejoin="round"/>
<path d="M72.6 336.31V300.45M69.65 300.45H75.55M72.6 336.31V369.89M69.65 369.89H75.55" stroke="#ff1414" stroke-width="1.5" fill="none"/>
<path d="M73.7 422.53V344.71M70.75 344.71H76.65M73.7 422.53V427.11M70.75 427.11H76.65" stroke="#ff1414" stroke-width="1.5" fill="none"/>
<path d="M77.5 421.77V417.95M74.55 417.95H80.45M77.5 421.77V425.58M74.55 425.58H80.45" stroke="#ff1414" stroke-width="1.5" fill="none"/>
<path d="M80.1 421.01V417.19M77.15 417.19H83.05M80.1 421.01V424.82M77.15 424.82H83.05" stroke="#ff1414" stroke-width="1.5" fill="none"/>
<path d="M84.4 419.48V414.9M81.45 414.9H87.35M84.4 419.48V423.3M81.45 423.3H87.35" stroke="#ff1414" stroke-width="1.5" fill="none"/>
<path d="M97.57 405.75V395.83M94.62 395.83H100.52M97.57 405.75V414.14M94.62 414.14H100.52" stroke="#ff1414" stroke-width="1.5" fill="none"/>
<path d="M122.54 367.98V341.65M119.59 341.65H125.49M122.54 367.98V395.83M119.59 395.83H125.49" stroke="#ff1414" stroke-width="1.5" fill="none"/>
<path d="M147.51 354.17V330.21M144.56 330.21H150.46M147.51 354.17V377.52M144.56 377.52H150.46" stroke="#ff1414" stroke-width="1.5" fill="none"/>
<path d="M172.48 346.46V328.68M169.53 328.68H175.43M172.48 346.46V367.6M169.53 367.6H175.43" stroke="#ff1414" stroke-width="1.5" fill="none"/>
<path d="M297.33 311.9V288.25M294.38 288.25H300.28M297.33 311.9V335.17M294.38 335.17H300.28" stroke="#ff1414" stroke-width="1.5" fill="none"/>
<path d="M72.6 336.31 L73.7 422.53 L77.5 421.77 L80.1 421.01 L84.4 419.48 L97.57 405.75 L122.54 367.98 L147.51 354.17 L172.48 346.46 L297.33 311.9" stroke="#ff1414" stroke-width="1.6" fill="none" stroke-linejoin="round"/>
</g>
<path d="M70.2 276V430.2" stroke="#000" stroke-width="1.6"/>
<path d="M69.4 429.4H298.5" stroke="#000" stroke-width="1.6"/>
<path d="M64.3 429.4H70.2" stroke="#000" stroke-width="1.6"/>
<text x="62.7" y="433.4" font-size="10" font-weight="bold" text-anchor="end">0</text>
<path d="M64.3 391.25H70.2" stroke="#000" stroke-width="1.6"/>
<text x="62.7" y="395.25" font-size="10" font-weight="bold" text-anchor="end">5</text>
<path d="M64.3 353.1H70.2" stroke="#000" stroke-width="1.6"/>
<text x="62.7" y="357.1" font-size="10" font-weight="bold" text-anchor="end">10</text>
<path d="M64.3 314.95H70.2" stroke="#000" stroke-width="1.6"/>
<text x="62.7" y="318.95" font-size="10" font-weight="bold" text-anchor="end">15</text>
<path d="M64.3 276.8H70.2" stroke="#000" stroke-width="1.6"/>
<text x="62.7" y="280.8" font-size="10" font-weight="bold" text-anchor="end">20</text>
<path d="M72.6 429.4V435.3" stroke="#000" stroke-width="1.6"/>
<text x="69.8" y="444.68" font-size="8" font-weight="bold" text-anchor="middle">Pre-dose</text>
<path d="M97.57 429.4V435.3" stroke="#000" stroke-width="1.6"/>
<text x="97.57" y="444.68" font-size="8" font-weight="bold" text-anchor="middle">D7</text>
<path d="M122.54 429.4V435.3" stroke="#000" stroke-width="1.6"/>
<text x="122.54" y="444.68" font-size="8" font-weight="bold" text-anchor="middle">D14</text>
<path d="M147.51 429.4V435.3" stroke="#000" stroke-width="1.6"/>
<text x="147.51" y="444.68" font-size="8" font-weight="bold" text-anchor="middle">D21</text>
<path d="M172.48 429.4V435.3" stroke="#000" stroke-width="1.6"/>
<text x="172.48" y="444.68" font-size="8" font-weight="bold" text-anchor="middle">D28</text>
<path d="M197.45 429.4V435.3" stroke="#000" stroke-width="1.6"/>
<text x="197.45" y="444.68" font-size="8" font-weight="bold" text-anchor="middle">D35</text>
<path d="M222.42 429.4V435.3" stroke="#000" stroke-width="1.6"/>
<text x="222.42" y="444.68" font-size="8" font-weight="bold" text-anchor="middle">D42</text>
<path d="M247.39 429.4V435.3" stroke="#000" stroke-width="1.6"/>
<text x="247.39" y="444.68" font-size="8" font-weight="bold" text-anchor="middle">D49</text>
<path d="M272.36 429.4V435.3" stroke="#000" stroke-width="1.6"/>
<text x="272.36" y="444.68" font-size="8" font-weight="bold" text-anchor="middle">D56</text>
<path d="M297.33 429.4V435.3" stroke="#000" stroke-width="1.6"/>
<text x="297.33" y="444.68" font-size="8" font-weight="bold" text-anchor="middle">D63</text>
<text transform="translate(44.17 353.5) rotate(-90)" font-size="12" font-weight="bold" text-anchor="middle">IgG(g/L)</text>
<text x="188.3" y="459.22" font-size="9.5" font-weight="bold" text-anchor="middle" letter-spacing="1.3">Time</text>
<text x="10.6" y="259.2" font-size="18.8">C</text>
<path d="M192.5 258.7H208" stroke="#111111" stroke-width="1.7"/>
<text x="217" y="261.54" font-size="7.9" font-weight="bold">placebo-China</text>
<path d="M192.5 269.7H208" stroke="#c99a5e" stroke-width="1.7"/>
<text x="217" y="272.54" font-size="7.9" font-weight="bold">0.04mg/kg-China</text>
<path d="M192.5 280.5H208" stroke="#08c408" stroke-width="1.7"/>
<text x="217" y="283.34" font-size="7.9" font-weight="bold">0.12mg/kg-China</text>
<path d="M192.5 291.5H208" stroke="#ff1414" stroke-width="1.7"/>
<text x="217" y="294.34" font-size="7.9" font-weight="bold">0.25mg/kg-China</text>
<path d="M192.5 302.5H208" stroke="#1c1cff" stroke-width="1.7"/>
<text x="217" y="305.34" font-size="7.9" font-weight="bold">0.40mg/kg-China</text>
<clipPath id="cD"><rect x="385.1" y="0" width="221.1" height="424.6"/></clipPath>
<g clip-path="url(#cD)">
<path d="M387.6 317.04V299.55M384.65 299.55H390.55M387.6 317.04V333.65M384.65 333.65H390.55" stroke="#c99a5e" stroke-width="1.5" fill="none"/>
<path d="M391.2 333.07V315.58M388.25 315.58H394.15M391.2 333.07V373.88M388.25 373.88H394.15" stroke="#c99a5e" stroke-width="1.5" fill="none"/>
<path d="M394.7 332.49V316.75M391.75 316.75H397.65M394.7 332.49V372.13M391.75 372.13H397.65" stroke="#c99a5e" stroke-width="1.5" fill="none"/>
<path d="M398 333.07V311.5M395.05 311.5H400.95M398 333.07V373.88M395.05 373.88H400.95" stroke="#c99a5e" stroke-width="1.5" fill="none"/>
<path d="M411.23 335.4V319.08M408.28 319.08H414.18M411.23 335.4V351.73M408.28 351.73H414.18" stroke="#c99a5e" stroke-width="1.5" fill="none"/>
<path d="M435.16 335.58V320.83M432.21 320.83H438.11M435.16 335.58V349.98M432.21 349.98H438.11" stroke="#c99a5e" stroke-width="1.5" fill="none"/>
<path d="M459.09 340.07V326.07M456.14 326.07H462.04M459.09 340.07V354.64M456.14 354.64H462.04" stroke="#c99a5e" stroke-width="1.5" fill="none"/>
<path d="M483.02 328.99V312.08M480.07 312.08H485.97M483.02 328.99V345.9M480.07 345.9H485.97" stroke="#c99a5e" stroke-width="1.5" fill="none"/>
<path d="M602.67 320.24V306.83M599.72 306.83H605.62M602.67 320.24V334.82M599.72 334.82H605.62" stroke="#c99a5e" stroke-width="1.5" fill="none"/>
<path d="M387.6 317.04 L391.2 333.07 L394.7 332.49 L398 333.07 L411.23 335.4 L435.16 335.58 L459.09 340.07 L483.02 328.99 L602.67 320.24" stroke="#c99a5e" stroke-width="1.6" fill="none" stroke-linejoin="round"/>
<path d="M387.6 347.64V337.73M384.65 337.73H390.55M387.6 347.64V357.56M384.65 357.56H390.55" stroke="#08c408" stroke-width="1.5" fill="none"/>
<path d="M391.2 401.28V397.2M388.25 397.2H394.15M391.2 401.28V405.36M388.25 405.36H394.15" stroke="#08c408" stroke-width="1.5" fill="none"/>
<path d="M394.7 395.1V390.79M391.75 390.79H397.65M394.7 395.1V399.53M391.75 399.53H397.65" stroke="#08c408" stroke-width="1.5" fill="none"/>
<path d="M398 391.95V387.87M395.05 387.87H400.95M398 391.95V396.03M395.05 396.03H400.95" stroke="#08c408" stroke-width="1.5" fill="none"/>
<path d="M411.23 390.03V387.58M408.28 387.58H414.18M411.23 390.03V395.1M408.28 395.1H414.18" stroke="#08c408" stroke-width="1.5" fill="none"/>
<path d="M435.16 383.5V373.88M432.21 373.88H438.11M435.16 383.5V390.79M432.21 390.79H438.11" stroke="#08c408" stroke-width="1.5" fill="none"/>
<path d="M459.09 375.63V360.47M456.14 360.47H462.04M459.09 375.63V386.12M456.14 386.12H462.04" stroke="#08c408" stroke-width="1.5" fill="none"/>
<path d="M483.02 365.13V348.81M480.07 348.81H485.97M483.02 365.13V384.96M480.07 384.96H485.97" stroke="#08c408" stroke-width="1.5" fill="none"/>
<path d="M602.67 320.83V306.25M599.72 306.25H605.62M602.67 320.83V331.32M599.72 331.32H605.62" stroke="#08c408" stroke-width="1.5" fill="none"/>
<path d="M387.6 347.64 L391.2 401.28 L394.7 395.1 L398 391.95 L411.23 390.03 L435.16 383.5 L459.09 375.63 L483.02 365.13 L602.67 320.83" stroke="#08c408" stroke-width="1.6" fill="none" stroke-linejoin="round"/>
<path d="M387.6 341.81V316.75M384.65 316.75H390.55M387.6 341.81V368.63M384.65 368.63H390.55" stroke="#111111" stroke-width="1.5" fill="none"/>
<path d="M391.2 350.21V332.49M388.25 332.49H394.15M391.2 350.21V369.22M388.25 369.22H394.15" stroke="#111111" stroke-width="1.5" fill="none"/>
<path d="M394.7 349.39V328.99M391.75 328.99H397.65M394.7 349.39V369.8M391.75 369.8H397.65" stroke="#111111" stroke-width="1.5" fill="none"/>
<path d="M398 353.47V333.65M395.05 333.65H400.95M398 353.47V375.63M395.05 375.63H400.95" stroke="#111111" stroke-width="1.5" fill="none"/>
<path d="M411.23 356.97V343.56M408.28 343.56H414.18M411.23 356.97V372.71M408.28 372.71H414.18" stroke="#111111" stroke-width="1.5" fill="none"/>
<path d="M435.16 354.64V335.58M432.21 335.58H438.11M435.16 354.64V373.88M432.21 373.88H438.11" stroke="#111111" stroke-width="1.5" fill="none"/>
<path d="M459.09 343.27V331.32M456.14 331.32H462.04M459.09 343.27V355.81M456.14 355.81H462.04" stroke="#111111" stroke-width="1.5" fill="none"/>
<path d="M483.02 345.9V325.78M480.07 325.78H485.97M483.02 345.9V365.13M480.07 365.13H485.97" stroke="#111111" stroke-width="1.5" fill="none"/>
<path d="M602.67 339.48V308.87M599.72 308.87H605.62M602.67 339.48V368.34M599.72 368.34H605.62" stroke="#111111" stroke-width="1.5" fill="none"/>
<path d="M387.6 341.81 L391.2 350.21 L394.7 349.39 L398 353.47 L411.23 356.97 L435.16 354.64 L459.09 343.27 L483.02 345.9 L602.67 339.48" stroke="#111111" stroke-width="1.6" fill="none" stroke-linejoin="round"/>
<path d="M386.9 365.13V314.12M383.95 314.12H389.85M386.9 365.13V415.86M383.95 415.86H389.85" stroke="#1c1cff" stroke-width="1.5" fill="none"/>
<path d="M388.6 421.98V418.77M385.65 418.77H391.55M388.6 421.98V424.02M385.65 424.02H391.55" stroke="#1c1cff" stroke-width="1.5" fill="none"/>
<path d="M391.2 421.1V417.6M388.25 417.6H394.15M391.2 421.1V423.43M388.25 423.43H394.15" stroke="#1c1cff" stroke-width="1.5" fill="none"/>
<path d="M394.7 419.94V416.44M391.75 416.44H397.65M394.7 419.94V422.85M391.75 422.85H397.65" stroke="#1c1cff" stroke-width="1.5" fill="none"/>
<path d="M398 418.77V415.27M395.05 415.27H400.95M398 418.77V421.69M395.05 421.69H400.95" stroke="#1c1cff" stroke-width="1.5" fill="none"/>
<path d="M411.23 407.11V398.95M408.28 398.95H414.18M411.23 407.11V416.44M408.28 416.44H414.18" stroke="#1c1cff" stroke-width="1.5" fill="none"/>
<path d="M435.16 384.37V362.8M432.21 362.8H438.11M435.16 384.37V405.94M432.21 405.94H438.11" stroke="#1c1cff" stroke-width="1.5" fill="none"/>
<path d="M459.09 366.3V340.07M456.14 340.07H462.04M459.09 366.3V392.54M456.14 392.54H462.04" stroke="#1c1cff" stroke-width="1.5" fill="none"/>
<path d="M483.02 362.8V333.07M480.07 333.07H485.97M483.02 362.8V391.66M480.07 391.66H485.97" stroke="#1c1cff" stroke-width="1.5" fill="none"/>
<path d="M602.67 332.49V308.87M599.72 308.87H605.62M602.67 332.49V356.39M599.72 356.39H605.62" stroke="#1c1cff" stroke-width="1.5" fill="none"/>
<path d="M386.9 365.13 L388.6 421.98 L391.2 421.1 L394.7 419.94 L398 418.77 L411.23 407.11 L435.16 384.37 L459.09 366.3 L483.02 362.8 L602.67 332.49" stroke="#1c1cff" stroke-width="1.6" fill="none" stroke-linejoin="round"/>
<path d="M388.4 365.72V348.52M385.45 348.52H391.35M388.4 365.72V407.11M385.45 407.11H391.35" stroke="#ff1414" stroke-width="1.5" fill="none"/>
<path d="M389.2 419.35V380.88M386.25 380.88H392.15M389.2 419.35V422.85M386.25 422.85H392.15" stroke="#ff1414" stroke-width="1.5" fill="none"/>
<path d="M391.2 418.19V415.27M388.25 415.27H394.15M391.2 418.19V421.1M388.25 421.1H394.15" stroke="#ff1414" stroke-width="1.5" fill="none"/>
<path d="M394.7 417.02V412.94M391.75 412.94H397.65M394.7 417.02V420.52M391.75 420.52H397.65" stroke="#ff1414" stroke-width="1.5" fill="none"/>
<path d="M398 415.27V410.61M395.05 410.61H400.95M398 415.27V419.35M395.05 419.35H400.95" stroke="#ff1414" stroke-width="1.5" fill="none"/>
<path d="M411.23 405.94V399.53M408.28 399.53H414.18M411.23 405.94V414.11M408.28 414.11H414.18" stroke="#ff1414" stroke-width="1.5" fill="none"/>
<path d="M435.16 397.37V387.87M432.21 387.87H438.11M435.16 397.37V407.11M432.21 407.11H438.11" stroke="#ff1414" stroke-width="1.5" fill="none"/>
<path d="M459.09 359.89V342.69M456.14 342.69H462.04M459.09 359.89V375.63M456.14 375.63H462.04" stroke="#ff1414" stroke-width="1.5" fill="none"/>
<path d="M483.02 347.64V331.32M480.07 331.32H485.97M483.02 347.64V364.55M480.07 364.55H485.97" stroke="#ff1414" stroke-width="1.5" fill="none"/>
<path d="M602.67 321.41V292.84M599.72 292.84H605.62M602.67 321.41V349.1M599.72 349.1H605.62" stroke="#ff1414" stroke-width="1.5" fill="none"/>
<path d="M388.4 365.72 L389.2 419.35 L391.2 418.19 L394.7 417.02 L398 415.27 L411.23 405.94 L435.16 397.37 L459.09 359.89 L483.02 347.64 L602.67 321.41" stroke="#ff1414" stroke-width="1.6" fill="none" stroke-linejoin="round"/>
</g>
<path d="M385.1 278.05V425.4" stroke="#000" stroke-width="1.6"/>
<path d="M384.3 424.6H603.2" stroke="#000" stroke-width="1.6"/>
<path d="M379.2 424.6H385.1" stroke="#000" stroke-width="1.6"/>
<text x="377.6" y="428.6" font-size="10" font-weight="bold" text-anchor="end">0</text>
<path d="M379.2 395.45H385.1" stroke="#000" stroke-width="1.6"/>
<text x="377.6" y="399.45" font-size="10" font-weight="bold" text-anchor="end">5</text>
<path d="M379.2 366.3H385.1" stroke="#000" stroke-width="1.6"/>
<text x="377.6" y="370.3" font-size="10" font-weight="bold" text-anchor="end">10</text>
<path d="M379.2 337.15H385.1" stroke="#000" stroke-width="1.6"/>
<text x="377.6" y="341.15" font-size="10" font-weight="bold" text-anchor="end">15</text>
<path d="M379.2 308H385.1" stroke="#000" stroke-width="1.6"/>
<text x="377.6" y="312" font-size="10" font-weight="bold" text-anchor="end">20</text>
<path d="M379.2 278.85H385.1" stroke="#000" stroke-width="1.6"/>
<text x="377.6" y="282.85" font-size="10" font-weight="bold" text-anchor="end">25</text>
<path d="M387.3 424.6V430.5" stroke="#000" stroke-width="1.6"/>
<text x="384.5" y="439.58" font-size="8" font-weight="bold" text-anchor="middle">Pre-dose</text>
<path d="M411.23 424.6V430.5" stroke="#000" stroke-width="1.6"/>
<text x="411.23" y="439.58" font-size="8" font-weight="bold" text-anchor="middle">D7</text>
<path d="M435.16 424.6V430.5" stroke="#000" stroke-width="1.6"/>
<text x="435.16" y="439.58" font-size="8" font-weight="bold" text-anchor="middle">D14</text>
<path d="M459.09 424.6V430.5" stroke="#000" stroke-width="1.6"/>
<text x="459.09" y="439.58" font-size="8" font-weight="bold" text-anchor="middle">D21</text>
<path d="M483.02 424.6V430.5" stroke="#000" stroke-width="1.6"/>
<text x="483.02" y="439.58" font-size="8" font-weight="bold" text-anchor="middle">D28</text>
<path d="M506.95 424.6V430.5" stroke="#000" stroke-width="1.6"/>
<text x="506.95" y="439.58" font-size="8" font-weight="bold" text-anchor="middle">D35</text>
<path d="M530.88 424.6V430.5" stroke="#000" stroke-width="1.6"/>
<text x="530.88" y="439.58" font-size="8" font-weight="bold" text-anchor="middle">D42</text>
<path d="M554.81 424.6V430.5" stroke="#000" stroke-width="1.6"/>
<text x="554.81" y="439.58" font-size="8" font-weight="bold" text-anchor="middle">D49</text>
<path d="M578.74 424.6V430.5" stroke="#000" stroke-width="1.6"/>
<text x="578.74" y="439.58" font-size="8" font-weight="bold" text-anchor="middle">D56</text>
<path d="M602.67 424.6V430.5" stroke="#000" stroke-width="1.6"/>
<text x="602.67" y="439.58" font-size="8" font-weight="bold" text-anchor="middle">D63</text>
<text transform="translate(360.42 351.7) rotate(-90)" font-size="12" font-weight="bold" text-anchor="middle">IgG(g/L)</text>
<text x="498" y="454.32" font-size="9.5" font-weight="bold" text-anchor="middle" letter-spacing="1.3">Time</text>
<text x="353.9" y="256.2" font-size="18.8">D</text>
<path d="M483.9 258.5H498.7" stroke="#111111" stroke-width="1.7"/>
<text x="507" y="261.24" font-size="7.6" font-weight="bold">placebo-New Zealand</text>
<path d="M483.9 268.7H498.7" stroke="#c99a5e" stroke-width="1.7"/>
<text x="507" y="271.44" font-size="7.6" font-weight="bold">0.04mg/kg-New Zealand</text>
<path d="M483.9 279.3H498.7" stroke="#08c408" stroke-width="1.7"/>
<text x="507" y="282.04" font-size="7.6" font-weight="bold">0.12mg/kg-New Zealand</text>
<path d="M483.9 289.8H498.7" stroke="#ff1414" stroke-width="1.7"/>
<text x="507" y="292.54" font-size="7.6" font-weight="bold">0.25mg/kg-New Zealand</text>
<path d="M483.9 300.4H498.7" stroke="#1c1cff" stroke-width="1.7"/>
<text x="507" y="303.14" font-size="7.6" font-weight="bold">0.40mg/kg-New Zealand</text>
<clipPath id="cE"><rect x="69.3" y="0" width="229.4" height="655.2"/></clipPath>
<g clip-path="url(#cE)">
<path d="M72.1 596.61V553.73M69.15 553.73H75.05M72.1 596.61V639.5M69.15 639.5H75.05" stroke="#1c1cff" stroke-width="1.5" fill="none"/>
<path d="M72.5 598.42V589.36M69.55 589.36H75.45M72.5 598.42V607.79M69.55 607.79H75.45" stroke="#1c1cff" stroke-width="1.5" fill="none"/>
<path d="M73.6 652.18V649.76M70.65 649.76H76.55M73.6 652.18V653.99M70.65 653.99H76.55" stroke="#1c1cff" stroke-width="1.5" fill="none"/>
<path d="M76 650.37V647.95M73.05 647.95H78.95M76 650.37V652.78M73.05 652.78H78.95" stroke="#1c1cff" stroke-width="1.5" fill="none"/>
<path d="M79.5 647.95V644.33M76.55 644.33H82.45M79.5 647.95V650.97M76.55 650.97H82.45" stroke="#1c1cff" stroke-width="1.5" fill="none"/>
<path d="M82.7 645.54V640.7M79.75 640.7H85.65M82.7 645.54V649.16M79.75 649.16H85.65" stroke="#1c1cff" stroke-width="1.5" fill="none"/>
<path d="M96.67 635.87V628.62M93.72 628.62H99.62M96.67 635.87V643.12M93.72 643.12H99.62" stroke="#1c1cff" stroke-width="1.5" fill="none"/>
<path d="M121.44 608.09V586.34M118.49 586.34H124.39M121.44 608.09V629.23M118.49 629.23H124.39" stroke="#1c1cff" stroke-width="1.5" fill="none"/>
<path d="M146.21 595.1V576.68M143.26 576.68H149.16M146.21 595.1V614.73M143.26 614.73H149.16" stroke="#1c1cff" stroke-width="1.5" fill="none"/>
<path d="M170.98 590.27V575.47M168.03 575.47H173.93M170.98 590.27V605.07M168.03 605.07H173.93" stroke="#1c1cff" stroke-width="1.5" fill="none"/>
<path d="M294.83 562.18V543.46M291.88 543.46H297.78M294.83 562.18V580.91M291.88 580.91H297.78" stroke="#1c1cff" stroke-width="1.5" fill="none"/>
<path d="M72.1 596.61 L72.5 598.42 L73.6 652.18 L76 650.37 L79.5 647.95 L82.7 645.54 L96.67 635.87 L121.44 608.09 L146.21 595.1 L170.98 590.27 L294.83 562.18" stroke="#1c1cff" stroke-width="1.6" fill="none" stroke-linejoin="round"/>
<path d="M72.1 606.88V576.68M69.15 576.68H75.05M72.1 606.88V637.38M69.15 637.38H75.05" stroke="#ff1414" stroke-width="1.5" fill="none"/>
<path d="M72.5 604.77V599.63M69.55 599.63H75.45M72.5 604.77V609.9M69.55 609.9H75.45" stroke="#ff1414" stroke-width="1.5" fill="none"/>
<path d="M73.6 651.58V648.56M70.65 648.56H76.55M73.6 651.58V653.99M70.65 653.99H76.55" stroke="#ff1414" stroke-width="1.5" fill="none"/>
<path d="M76 649.16V645.54M73.05 645.54H78.95M76 649.16V652.18M73.05 652.18H78.95" stroke="#ff1414" stroke-width="1.5" fill="none"/>
<path d="M79.5 646.14V640.7M76.55 640.7H82.45M79.5 646.14V650.37M76.55 650.37H82.45" stroke="#ff1414" stroke-width="1.5" fill="none"/>
<path d="M82.7 643.12V638.29M79.75 638.29H85.65M82.7 643.12V647.95M79.75 647.95H85.65" stroke="#ff1414" stroke-width="1.5" fill="none"/>
<path d="M96.67 634.97V628.62M93.72 628.62H99.62M96.67 634.97V643.72M93.72 643.72H99.62" stroke="#ff1414" stroke-width="1.5" fill="none"/>
<path d="M121.44 628.2V617.15M118.49 617.15H124.39M121.44 628.2V637.08M118.49 637.08H124.39" stroke="#ff1414" stroke-width="1.5" fill="none"/>
<path d="M146.21 588.16V571.24M143.26 571.24H149.16M146.21 588.16V605.07M143.26 605.07H149.16" stroke="#ff1414" stroke-width="1.5" fill="none"/>
<path d="M170.98 575.77V559.77M168.03 559.77H173.93M170.98 575.77V591.18M168.03 591.18H173.93" stroke="#ff1414" stroke-width="1.5" fill="none"/>
<path d="M294.83 548.47V518.7M291.88 518.7H297.78M294.83 548.47V578.49M291.88 578.49H297.78" stroke="#ff1414" stroke-width="1.5" fill="none"/>
<path d="M72.1 606.88 L72.5 604.77 L73.6 651.58 L76 649.16 L79.5 646.14 L82.7 643.12 L96.67 634.97 L121.44 628.2 L146.21 588.16 L170.98 575.77 L294.83 548.47" stroke="#ff1414" stroke-width="1.6" fill="none" stroke-linejoin="round"/>
</g>
<path d="M69.3 503.4V656" stroke="#000" stroke-width="1.6"/>
<path d="M68.5 655.2H295.7" stroke="#000" stroke-width="1.6"/>
<path d="M63.4 655.2H69.3" stroke="#000" stroke-width="1.6"/>
<text x="61.8" y="659.2" font-size="10" font-weight="bold" text-anchor="end">0</text>
<path d="M63.4 625H69.3" stroke="#000" stroke-width="1.6"/>
<text x="61.8" y="629" font-size="10" font-weight="bold" text-anchor="end">5</text>
<path d="M63.4 594.8H69.3" stroke="#000" stroke-width="1.6"/>
<text x="61.8" y="598.8" font-size="10" font-weight="bold" text-anchor="end">10</text>
<path d="M63.4 564.6H69.3" stroke="#000" stroke-width="1.6"/>
<text x="61.8" y="568.6" font-size="10" font-weight="bold" text-anchor="end">15</text>
<path d="M63.4 534.4H69.3" stroke="#000" stroke-width="1.6"/>
<text x="61.8" y="538.4" font-size="10" font-weight="bold" text-anchor="end">20</text>
<path d="M63.4 504.2H69.3" stroke="#000" stroke-width="1.6"/>
<text x="61.8" y="508.2" font-size="10" font-weight="bold" text-anchor="end">25</text>
<path d="M71.9 655.2V661.1" stroke="#000" stroke-width="1.6"/>
<text x="69.1" y="669.88" font-size="8" font-weight="bold" text-anchor="middle">Pre-dose</text>
<path d="M96.67 655.2V661.1" stroke="#000" stroke-width="1.6"/>
<text x="96.67" y="669.88" font-size="8" font-weight="bold" text-anchor="middle">D7</text>
<path d="M121.44 655.2V661.1" stroke="#000" stroke-width="1.6"/>
<text x="121.44" y="669.88" font-size="8" font-weight="bold" text-anchor="middle">D14</text>
<path d="M146.21 655.2V661.1" stroke="#000" stroke-width="1.6"/>
<text x="146.21" y="669.88" font-size="8" font-weight="bold" text-anchor="middle">D21</text>
<path d="M170.98 655.2V661.1" stroke="#000" stroke-width="1.6"/>
<text x="170.98" y="669.88" font-size="8" font-weight="bold" text-anchor="middle">D28</text>
<path d="M195.75 655.2V661.1" stroke="#000" stroke-width="1.6"/>
<text x="195.75" y="669.88" font-size="8" font-weight="bold" text-anchor="middle">D35</text>
<path d="M220.52 655.2V661.1" stroke="#000" stroke-width="1.6"/>
<text x="220.52" y="669.88" font-size="8" font-weight="bold" text-anchor="middle">D42</text>
<path d="M245.29 655.2V661.1" stroke="#000" stroke-width="1.6"/>
<text x="245.29" y="669.88" font-size="8" font-weight="bold" text-anchor="middle">D49</text>
<path d="M270.06 655.2V661.1" stroke="#000" stroke-width="1.6"/>
<text x="270.06" y="669.88" font-size="8" font-weight="bold" text-anchor="middle">D56</text>
<path d="M294.83 655.2V661.1" stroke="#000" stroke-width="1.6"/>
<text x="294.83" y="669.88" font-size="8" font-weight="bold" text-anchor="middle">D63</text>
<text transform="translate(43.52 580) rotate(-90)" font-size="12" font-weight="bold" text-anchor="middle">IgG(g/L)</text>
<text x="186.5" y="684.42" font-size="9.5" font-weight="bold" text-anchor="middle" letter-spacing="1.3">Time</text>
<text x="9.1" y="500.3" font-size="18.8">E</text>
<path d="M176.9 513.1H192" stroke="#ff1414" stroke-width="1.7"/>
<text x="200" y="515.94" font-size="7.9" font-weight="bold">0.25mg/kg-New Zealand</text>
<path d="M176.9 524H192" stroke="#1c1cff" stroke-width="1.7"/>
<text x="200" y="526.84" font-size="7.9" font-weight="bold">0.25mg/kg-China</text>
<clipPath id="cF"><rect x="391.5" y="0" width="226.7" height="651"/></clipPath>
<g clip-path="url(#cF)">
<path d="M393.9 579.48V549.08M390.95 549.08H396.85M393.9 579.48V609.88M390.95 609.88H396.85" stroke="#1c1cff" stroke-width="1.5" fill="none"/>
<path d="M394 606.6V603.02M391.05 603.02H396.95M394 606.6V610.47M391.05 610.47H396.95" stroke="#1c1cff" stroke-width="1.5" fill="none"/>
<path d="M394.6 645.04V643.25M391.65 643.25H397.55M394.6 645.04V646.83M391.65 646.83H397.55" stroke="#1c1cff" stroke-width="1.5" fill="none"/>
<path d="M396.2 646.83V644.44M393.25 644.44H399.15M396.2 646.83V649.21M393.25 649.21H399.15" stroke="#1c1cff" stroke-width="1.5" fill="none"/>
<path d="M399.3 644.44V642.06M396.35 642.06H402.25M399.3 644.44V647.42M396.35 647.42H402.25" stroke="#1c1cff" stroke-width="1.5" fill="none"/>
<path d="M404.4 639.91V634.91M401.45 634.91H407.35M404.4 639.91V644.44M401.45 644.44H407.35" stroke="#1c1cff" stroke-width="1.5" fill="none"/>
<path d="M418.65 632.7V625.37M415.7 625.37H421.6M418.65 632.7V639.68M415.7 639.68H421.6" stroke="#1c1cff" stroke-width="1.5" fill="none"/>
<path d="M443.1 603.32V582.46M440.15 582.46H446.05M443.1 603.32V624.48M440.15 624.48H446.05" stroke="#1c1cff" stroke-width="1.5" fill="none"/>
<path d="M467.55 594.38V575.9M464.6 575.9H470.5M467.55 594.38V612.56M464.6 612.56H470.5" stroke="#1c1cff" stroke-width="1.5" fill="none"/>
<path d="M492 587.82V574.12M489.05 574.12H494.95M492 587.82V602.72M489.05 602.72H494.95" stroke="#1c1cff" stroke-width="1.5" fill="none"/>
<path d="M614.25 583.89V565.18M611.3 565.18H617.2M614.25 583.89V602.43M611.3 602.43H617.2" stroke="#1c1cff" stroke-width="1.5" fill="none"/>
<path d="M393.9 579.48 L394 606.6 L394.6 645.04 L396.2 646.83 L399.3 644.44 L404.4 639.91 L418.65 632.7 L443.1 603.32 L467.55 594.38 L492 587.82 L614.25 583.89" stroke="#1c1cff" stroke-width="1.6" fill="none" stroke-linejoin="round"/>
<path d="M394.3 589.61V537.76M391.35 537.76H397.25M394.3 589.61V640.99M391.35 640.99H397.25" stroke="#ff1414" stroke-width="1.5" fill="none"/>
<path d="M394.4 599.74V574.71M391.45 574.71H397.35M394.4 599.74V624.48M391.45 624.48H397.35" stroke="#ff1414" stroke-width="1.5" fill="none"/>
<path d="M394.7 643.25V640.87M391.75 640.87H397.65M394.7 643.25V645.64M391.75 645.64H397.65" stroke="#ff1414" stroke-width="1.5" fill="none"/>
<path d="M396.2 648.02V645.64M393.25 645.64H399.15M396.2 648.02V649.81M393.25 649.81H399.15" stroke="#ff1414" stroke-width="1.5" fill="none"/>
<path d="M399.3 646.23V643.25M396.35 643.25H402.25M399.3 646.23V648.62M396.35 648.62H402.25" stroke="#ff1414" stroke-width="1.5" fill="none"/>
<path d="M404.4 641.88V638.48M401.45 638.48H407.35M404.4 641.88V645.64M401.45 645.64H407.35" stroke="#ff1414" stroke-width="1.5" fill="none"/>
<path d="M418.65 633.72V625.07M415.7 625.07H421.6M418.65 633.72V642.36M415.7 642.36H421.6" stroke="#ff1414" stroke-width="1.5" fill="none"/>
<path d="M443.1 609.88V587.23M440.15 587.23H446.05M443.1 609.88V632.52M440.15 632.52H446.05" stroke="#ff1414" stroke-width="1.5" fill="none"/>
<path d="M467.55 591.4V565.18M464.6 565.18H470.5M467.55 591.4V618.22M464.6 618.22H470.5" stroke="#ff1414" stroke-width="1.5" fill="none"/>
<path d="M492 587.23V558.02M489.05 558.02H494.95M492 587.23V616.43M489.05 616.43H494.95" stroke="#ff1414" stroke-width="1.5" fill="none"/>
<path d="M614.25 557.01V532.4M611.3 532.4H617.2M614.25 557.01V580.67M611.3 580.67H617.2" stroke="#ff1414" stroke-width="1.5" fill="none"/>
<path d="M394.3 589.61 L394.4 599.74 L394.7 643.25 L396.2 648.02 L399.3 646.23 L404.4 641.88 L418.65 633.72 L443.1 609.88 L467.55 591.4 L492 587.23 L614.25 557.01" stroke="#ff1414" stroke-width="1.6" fill="none" stroke-linejoin="round"/>
</g>
<path d="M391.5 501.2V651.8" stroke="#000" stroke-width="1.6"/>
<path d="M390.7 651H615.2" stroke="#000" stroke-width="1.6"/>
<path d="M385.6 651H391.5" stroke="#000" stroke-width="1.6"/>
<text x="384" y="655" font-size="10" font-weight="bold" text-anchor="end">0</text>
<path d="M385.6 621.2H391.5" stroke="#000" stroke-width="1.6"/>
<text x="384" y="625.2" font-size="10" font-weight="bold" text-anchor="end">5</text>
<path d="M385.6 591.4H391.5" stroke="#000" stroke-width="1.6"/>
<text x="384" y="595.4" font-size="10" font-weight="bold" text-anchor="end">10</text>
<path d="M385.6 561.6H391.5" stroke="#000" stroke-width="1.6"/>
<text x="384" y="565.6" font-size="10" font-weight="bold" text-anchor="end">15</text>
<path d="M385.6 531.8H391.5" stroke="#000" stroke-width="1.6"/>
<text x="384" y="535.8" font-size="10" font-weight="bold" text-anchor="end">20</text>
<path d="M385.6 502H391.5" stroke="#000" stroke-width="1.6"/>
<text x="384" y="506" font-size="10" font-weight="bold" text-anchor="end">25</text>
<path d="M394.2 651V656.9" stroke="#000" stroke-width="1.6"/>
<text x="391.4" y="665.88" font-size="8" font-weight="bold" text-anchor="middle">Pre-dose</text>
<path d="M418.65 651V656.9" stroke="#000" stroke-width="1.6"/>
<text x="418.65" y="665.88" font-size="8" font-weight="bold" text-anchor="middle">D7</text>
<path d="M443.1 651V656.9" stroke="#000" stroke-width="1.6"/>
<text x="443.1" y="665.88" font-size="8" font-weight="bold" text-anchor="middle">D14</text>
<path d="M467.55 651V656.9" stroke="#000" stroke-width="1.6"/>
<text x="467.55" y="665.88" font-size="8" font-weight="bold" text-anchor="middle">D21</text>
<path d="M492 651V656.9" stroke="#000" stroke-width="1.6"/>
<text x="492" y="665.88" font-size="8" font-weight="bold" text-anchor="middle">D28</text>
<path d="M516.45 651V656.9" stroke="#000" stroke-width="1.6"/>
<text x="516.45" y="665.88" font-size="8" font-weight="bold" text-anchor="middle">D35</text>
<path d="M540.9 651V656.9" stroke="#000" stroke-width="1.6"/>
<text x="540.9" y="665.88" font-size="8" font-weight="bold" text-anchor="middle">D42</text>
<path d="M565.35 651V656.9" stroke="#000" stroke-width="1.6"/>
<text x="565.35" y="665.88" font-size="8" font-weight="bold" text-anchor="middle">D49</text>
<path d="M589.8 651V656.9" stroke="#000" stroke-width="1.6"/>
<text x="589.8" y="665.88" font-size="8" font-weight="bold" text-anchor="middle">D56</text>
<path d="M614.25 651V656.9" stroke="#000" stroke-width="1.6"/>
<text x="614.25" y="665.88" font-size="8" font-weight="bold" text-anchor="middle">D63</text>
<text transform="translate(366.17 577.25) rotate(-90)" font-size="12" font-weight="bold" text-anchor="middle">IgG(g/L)</text>
<text x="506.9" y="680.42" font-size="9.5" font-weight="bold" text-anchor="middle" letter-spacing="1.3">Time</text>
<text x="359.2" y="500.3" font-size="18.8">F</text>
<path d="M497.3 511.5H512.6" stroke="#ff1414" stroke-width="1.7"/>
<text x="520.7" y="514.34" font-size="7.9" font-weight="bold">0.40mg/kg-New Zealand</text>
<path d="M497.3 521.6H512.6" stroke="#1c1cff" stroke-width="1.7"/>
<text x="520.7" y="524.44" font-size="7.9" font-weight="bold">0.40mg/kg-China</text>
</svg>
</body></html>
